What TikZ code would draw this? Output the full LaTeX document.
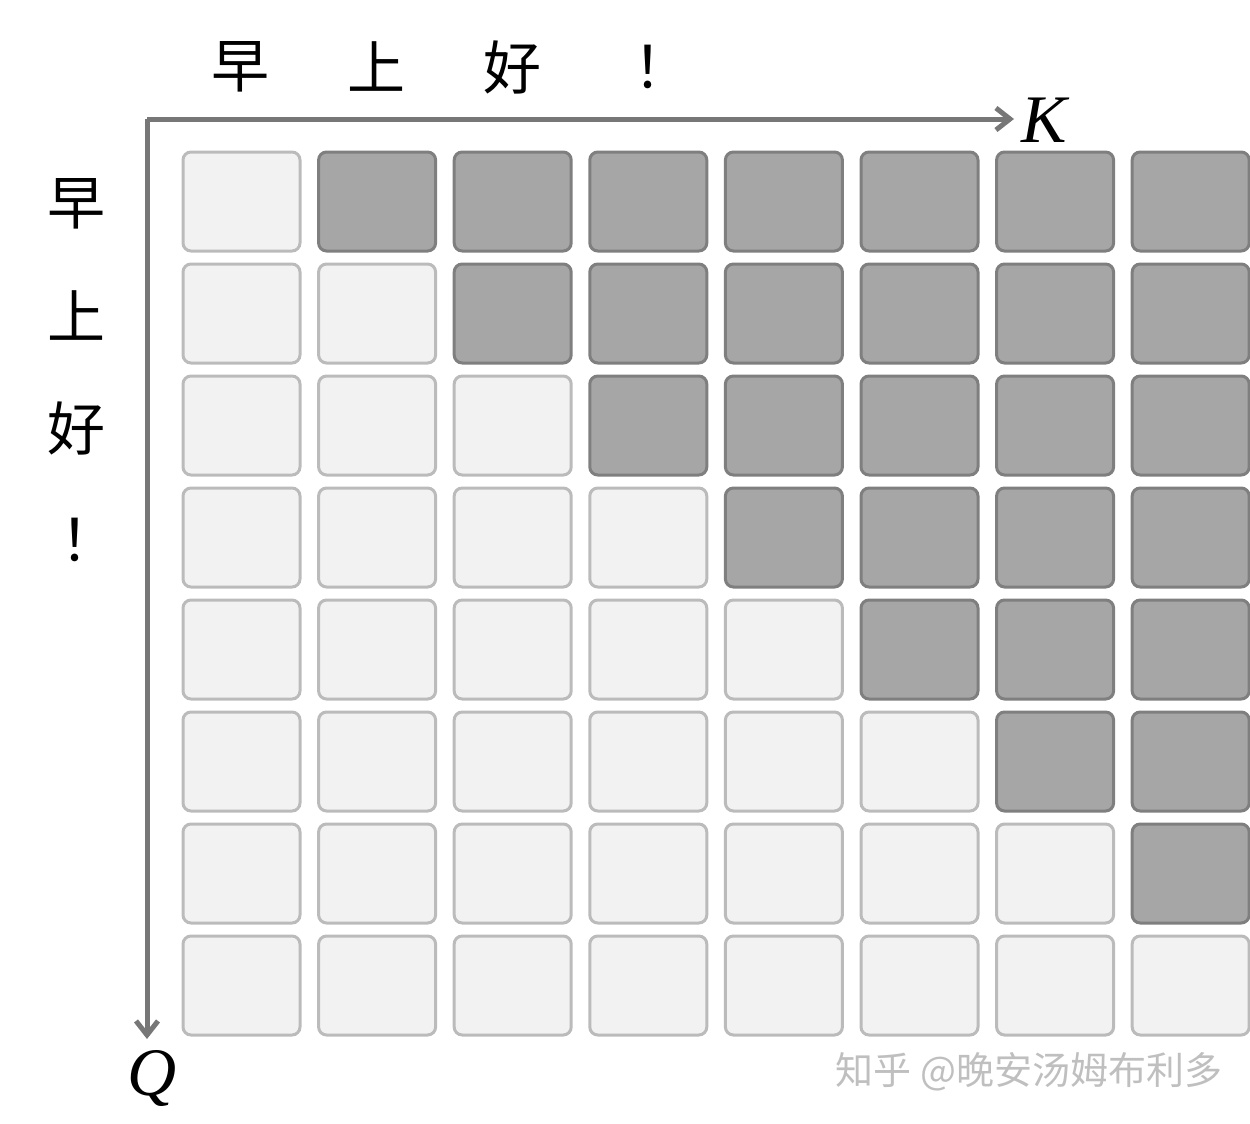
\documentclass[tikz,border=0pt]{standalone}
\usepackage{fontspec}
\newfontfamily\cjk{Noto Sans CJK SC}
\newfontfamily\serifit{Liberation Serif}
\usetikzlibrary{arrows.meta}
\definecolor{axisgray}{HTML}{777777}
\definecolor{lightfill}{HTML}{F2F2F2}
\definecolor{lightedge}{HTML}{BBBBBB}
\definecolor{darkfill}{HTML}{A6A6A6}
\definecolor{darkedge}{HTML}{7F7F7F}
\begin{document}
\begin{tikzpicture}[x=0.5pt, y=-0.5pt,
    cell/.style={draw, line width=1.5pt, rounded corners=4pt, minimum width=58.5pt, minimum height=49.5pt, inner sep=0pt},
    masked/.style={cell, fill=darkfill, draw=darkedge},
    visible/.style={cell, fill=lightfill, draw=lightedge},
    word/.style={font=\cjk\fontsize{29}{29}\selectfont},
    axislabel/.style={font=\serifit\itshape\fontsize{34}{34}\selectfont},
    axis/.style={draw=axisgray, line width=2.5pt, -{Straight Barb[length=7pt, width=11pt, line width=2.5pt]}}]
    \useasboundingbox (0,0) rectangle (1250,1124);
    % grid of cells
    \foreach \i in {0,...,7} {
        \foreach \j in {0,...,7} {
            \ifnum\j>\i
                \node[masked] (c-\i-\j) at ({241.5+135.6*\j}, {201.5+112*\i}) {};
            \else
                \node[visible] (c-\i-\j) at ({241.5+135.6*\j}, {201.5+112*\i}) {};
            \fi
        }
    }
    % axes
    \coordinate (origin) at (147,119);
    \coordinate (kend) at (1014,119);
    \coordinate (qend) at (147,1039);
    \draw[axis] (origin) -- (kend);
    \draw[axis] (origin) -- (qend);
    \node[axislabel] (klabel) at (1044,120) {K};
    \node[axislabel] (qlabel) at (152,1078) {Q};
    % tokens
    \foreach \t/\dx [count=\n from 0] in {早/0,上/0,好/0,！/14} {
        \node[word] (top-\n) at ({240+136*\n+\dx}, 67) {\t};
        \node[word] (left-\n) at ({76+\dx}, {204+112*\n}) {\t};
    }
    \node[font=\cjk\fontsize{19}{19}\selectfont, text=black!25] (mark) at (1029,1072) {知乎 @晚安汤姆布利多};
\end{tikzpicture}
\end{document}
